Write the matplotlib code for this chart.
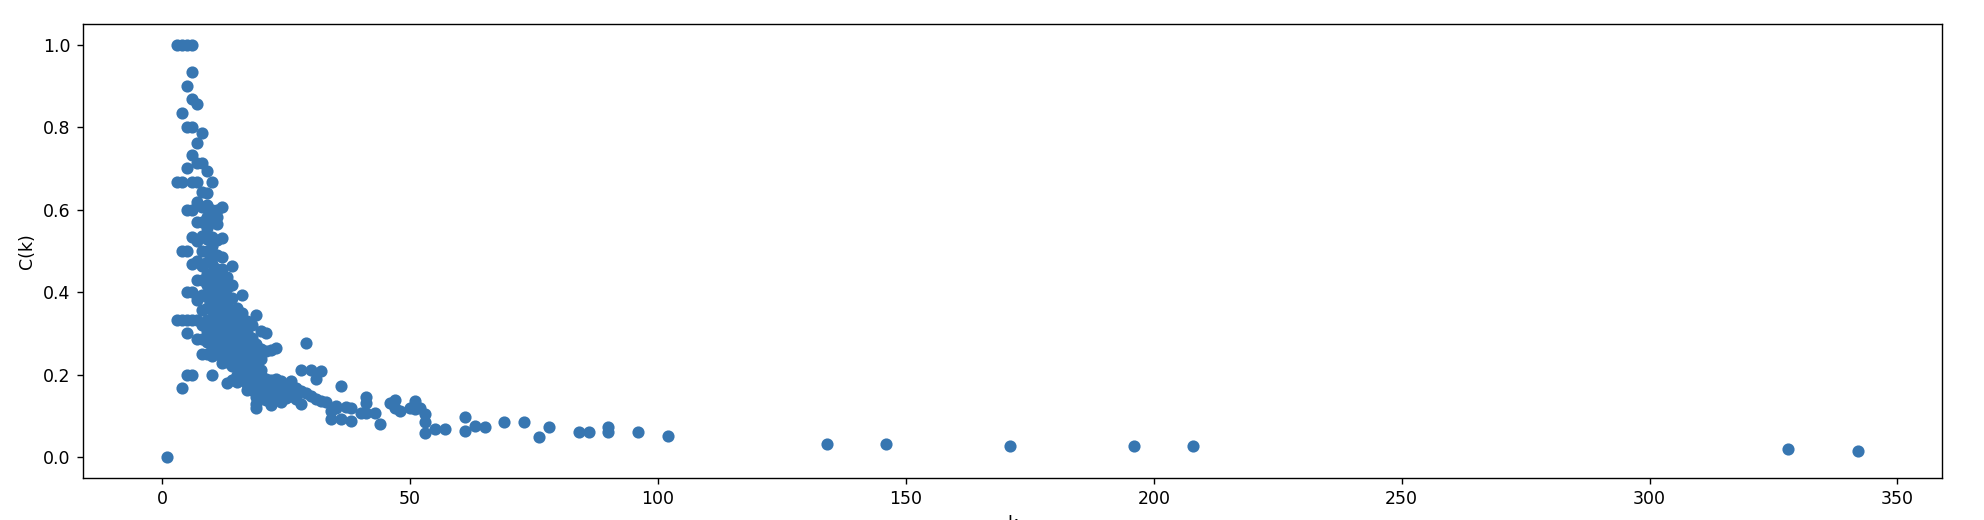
import matplotlib
matplotlib.use('Agg')
from matplotlib import pyplot as plt

# clustering coefficient per node degree
core_k = [1,
          3, 3, 3,
          4, 4, 4, 4, 4, 4,
          5, 5, 5, 5, 5, 5, 5, 5, 5, 5,
          6, 6, 6, 6, 6, 6, 6, 6, 6, 6, 6, 6,
          7, 7, 7, 7, 7, 7, 7, 7, 7, 7, 7, 7,
          8, 8, 8, 8, 8, 8, 8, 8, 8, 8, 8, 8, 8, 8,
          9, 9, 9, 9, 9, 9, 9, 9, 9, 9, 9, 9, 9, 9, 9, 9,
          10, 10, 10, 10, 10, 10, 10, 10, 10, 10, 10, 10, 10, 10, 10, 10, 10, 10,
          11, 11, 11, 11, 11, 11, 11, 11, 11, 11, 11, 11, 11, 11, 11, 11, 11,
          12, 12, 12, 12, 12, 12, 12, 12, 12, 12, 12, 12, 12, 12, 12, 12, 12, 12,
          13, 13, 13, 13, 13, 13, 13, 13, 13, 13, 13, 13, 13, 13, 13, 13,
          14, 14, 14, 14, 14, 14, 14, 14, 14, 14, 14, 14, 14, 14, 14,
          15, 15, 15, 15, 15, 15, 15, 15, 15, 15, 15, 15, 15, 15, 15,
          16, 16, 16, 16, 16, 16, 16, 16, 16, 16, 16, 16, 16,
          17, 17, 17, 17, 17, 17, 17, 17, 17, 17, 17,
          18, 18, 18, 18, 18, 18, 18, 18, 18, 18,
          19, 19, 19, 19, 19, 19, 19, 19, 19, 19, 19, 19,
          20, 20, 20, 20, 20, 20, 20, 20, 20,
          21, 21, 21, 21, 21, 21, 21, 21,
          22, 22, 22, 22, 22, 22,
          23, 23, 23, 23, 23, 23,
          24, 24, 24, 24, 24,
          25, 25, 25,
          26, 26, 26, 26,
          27, 27, 27,
          28, 28, 28,
          29, 29,
          30, 30,
          31, 31,
          32, 32]
core_c = [0.0,
          1.0, 0.667, 0.333,
          1.0, 0.833, 0.667, 0.5, 0.333, 0.167,
          1.0, 0.9, 0.8, 0.7, 0.6, 0.5, 0.4, 0.333, 0.3, 0.2,
          1.0, 0.933, 0.867, 0.8, 0.733, 0.667, 0.6, 0.533, 0.467, 0.4, 0.333, 0.2,
          0.857, 0.762, 0.714, 0.667, 0.619, 0.571, 0.524, 0.476, 0.429, 0.381, 0.333, 0.286,
          0.786, 0.714, 0.643, 0.607, 0.571, 0.536, 0.5, 0.464, 0.429, 0.393, 0.357, 0.321, 0.286, 0.25,
          0.694, 0.639, 0.611, 0.583, 0.556, 0.528, 0.5, 0.472, 0.444, 0.417, 0.389, 0.361, 0.333, 0.306, 0.278, 0.25,
          0.667, 0.6, 0.578, 0.533, 0.511, 0.489, 0.467, 0.444, 0.422, 0.4, 0.378, 0.356, 0.333, 0.311, 0.289, 0.267, 0.244, 0.2,
          0.6, 0.582, 0.564, 0.527, 0.491, 0.455, 0.436, 0.418, 0.4, 0.382, 0.364, 0.345, 0.327, 0.309, 0.291, 0.273, 0.255,
          0.606, 0.53, 0.485, 0.455, 0.424, 0.409, 0.394, 0.379, 0.364, 0.348, 0.333, 0.318, 0.303, 0.288, 0.273, 0.258, 0.242, 0.227,
          0.436, 0.41, 0.385, 0.372, 0.359, 0.346, 0.333, 0.321, 0.308, 0.295, 0.282, 0.269, 0.256, 0.244, 0.231, 0.18,
          0.462, 0.418, 0.385, 0.352, 0.33, 0.308, 0.297, 0.286, 0.275, 0.264, 0.253, 0.242, 0.231, 0.22, 0.187,
          0.362, 0.343, 0.324, 0.305, 0.295, 0.286, 0.276, 0.267, 0.257, 0.248, 0.238, 0.229, 0.219, 0.2, 0.181,
          0.392, 0.35, 0.317, 0.3, 0.283, 0.275, 0.267, 0.258, 0.25, 0.233, 0.225, 0.208, 0.2,
          0.331, 0.301, 0.279, 0.265, 0.25, 0.235, 0.221, 0.206, 0.191, 0.176, 0.162,
          0.32, 0.288, 0.261, 0.242, 0.229, 0.216, 0.203, 0.19, 0.176, 0.163,
          0.345, 0.275, 0.251, 0.234, 0.216, 0.199, 0.187, 0.175, 0.164, 0.146, 0.129, 0.12,
          0.305, 0.263, 0.237, 0.211, 0.2, 0.189, 0.174, 0.158, 0.147,
          0.3, 0.257, 0.19, 0.181, 0.171, 0.162, 0.152, 0.138,
          0.26, 0.186, 0.177, 0.165, 0.156, 0.126,
          0.265, 0.19, 0.178, 0.17, 0.158, 0.142,
          0.185, 0.174, 0.163, 0.152, 0.134,
          0.163, 0.153, 0.143,
          0.185, 0.175, 0.16, 0.148,
          0.168, 0.151, 0.142,
          0.21, 0.16, 0.128,
          0.276, 0.156,
          0.21, 0.149,
          0.19, 0.142,
          0.209, 0.137]

tail_k = [33, 34, 34, 35, 35, 36, 36, 37, 38, 38, 40, 41, 41, 41, 43, 44,
          46, 47, 47, 48, 50, 51, 51, 52, 53, 53, 53, 55, 57, 61, 61, 63,
          65, 69, 73, 76, 78, 84, 86, 90, 90, 96, 102,
          134, 146, 171, 196, 208, 328, 342]
tail_c = [0.133, 0.112, 0.092, 0.118, 0.125, 0.173, 0.093, 0.122, 0.118, 0.087, 0.106, 0.146, 0.132, 0.108, 0.108, 0.08,
          0.13, 0.138, 0.12, 0.112, 0.118, 0.136, 0.116, 0.118, 0.104, 0.086, 0.059, 0.067, 0.067, 0.096, 0.063, 0.075,
          0.072, 0.084, 0.084, 0.048, 0.072, 0.06, 0.06, 0.074, 0.062, 0.06, 0.052,
          0.032, 0.032, 0.028, 0.028, 0.028, 0.0196, 0.0155]

k_all = core_k + tail_k
c_all = core_c + tail_c

fig = plt.figure(figsize=(1984 / 125, 520 / 125), dpi=125)
ax = fig.add_axes([0.0417, 0.0813, 0.9373, 0.8727])
ax.scatter(k_all, c_all, color='#3776b1')
ax.set_xlabel('k')
ax.set_ylabel('C(k)')
fig.savefig('out.png', dpi=125)
